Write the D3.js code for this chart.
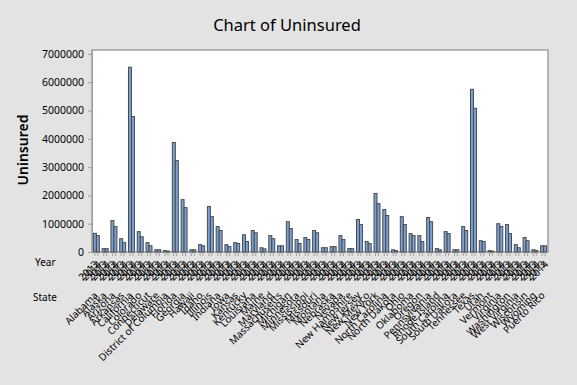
<!DOCTYPE html>
<html>
<head>
<meta charset="utf-8">
<script src="https://cdn.jsdelivr.net/npm/d3@7"></script>
<style>
  body { margin: 0; background: #e3e3e3; }
  svg { display: block; font-family: "Noto Sans", "Open Sans", sans-serif; }
</style>
</head>
<body>
<script>
//categories and values
var states = ["Alabama", "Alaska", "Arizona", "Arkansas", "California", "Colorado",
  "Connecticut", "Delaware", "District of Columbia", "Florida", "Georgia", "Hawaii",
  "Idaho", "Illinois", "Indiana", "Iowa", "Kansas", "Kentucky", "Louisiana", "Maine",
  "Maryland", "Massachusetts", "Michigan", "Minnesota", "Mississippi", "Missouri",
  "Montana", "Nebraska", "Nevada", "New Hampshire", "New Jersey", "New Mexico",
  "New York", "North Carolina", "North Dakota", "Ohio", "Oklahoma", "Oregon",
  "Pennsylvania", "Rhode Island", "South Carolina", "South Dakota", "Tennessee",
  "Texas", "Utah", "Vermont", "Virginia", "Washington", "West Virginia", "Wisconsin",
  "Wyoming", "Puerto Rico"];
var years = ["2013", "2014"];
var uninsured2013 = [660000, 120000, 1110000, 470000, 6530000, 720000,
  330000, 80000, 50000, 3870000, 1850000, 80000,
  260000, 1610000, 900000, 260000, 330000, 610000, 760000, 150000,
  580000, 220000, 1070000, 440000, 510000, 760000,
  150000, 190000, 580000, 120000, 1150000, 370000,
  2070000, 1500000, 80000, 1250000, 650000, 580000,
  1220000, 120000, 720000, 80000, 900000,
  5750000, 400000, 50000, 1000000, 970000, 260000, 510000,
  80000, 220000];
var uninsured2014 = [580000, 120000, 900000, 330000, 4790000, 540000,
  220000, 80000, 30000, 3230000, 1570000, 80000,
  220000, 1250000, 760000, 190000, 300000, 370000, 680000, 110000,
  470000, 220000, 830000, 300000, 440000, 680000,
  150000, 190000, 440000, 120000, 970000, 300000,
  1710000, 1290000, 50000, 970000, 580000, 370000,
  1070000, 80000, 650000, 80000, 760000,
  5080000, 370000, 30000, 900000, 650000, 150000, 400000,
  50000, 220000];
var yTicks = [0, 1000000, 2000000, 3000000, 4000000, 5000000, 6000000, 7000000];

(function all (){
  var width = 577,
  height = 385;
  var margin = {left: 92, right: 29, top: 50, bottom: 133};

  var svg = d3.select("body")
    .append("svg")
    .attr("width", width)
    .attr("height", height);

  svg.append("rect")
    .attr("width", width)
    .attr("height", height)
    .attr("fill", "#e3e3e3");

  //title
  svg.append("text")
    .attr("x", 287)
    .attr("y", 31)
    .attr("text-anchor", "middle")
    .attr("font-size", 16.5)
    .attr("fill", "#000")
    .text("Chart of Uninsured");

  var x0 = d3.scaleBand()
    .domain(states)
    .range([margin.left, width - margin.right])
    .paddingInner(0.32)
    .paddingOuter(0.16);
  var x1 = d3.scaleBand()
    .domain(years)
    .range([0, x0.bandwidth()]);
  var y = d3.scaleLinear()
    .domain([0, 7140000])
    .range([height - margin.bottom, margin.top]);

  //plot background
  svg.append("rect")
    .attr("x", margin.left)
    .attr("y", margin.top)
    .attr("width", width - margin.left - margin.right)
    .attr("height", height - margin.top - margin.bottom)
    .attr("fill", "#fff")
    .attr("stroke", "#a0a0a0")
    .attr("stroke-width", 1.5);

  //y axis
  var yAxis = svg.append("g")
    .attr("transform", "translate(" + margin.left + ",0)")
    .call(d3.axisLeft(y).tickValues(yTicks).tickSize(4).tickSizeOuter(0).tickFormat(d3.format("d")));
  yAxis.select(".domain").attr("stroke", "#a0a0a0");
  yAxis.selectAll(".tick line").attr("stroke", "#a0a0a0");
  yAxis.selectAll(".tick text")
    .attr("font-size", 10.5)
    .attr("font-family", "Noto Sans")
    .attr("fill", "#000")
    .attr("dx", -1);

  svg.append("text")
    .attr("transform", "translate(28,150) rotate(-90)")
    .attr("text-anchor", "middle")
    .attr("font-size", 14)
    .attr("font-weight", 600)
    .text("Uninsured");

  //bars, one group per state
  var rows = states.map(function(s, i){
    return {state: s, values: [uninsured2013[i], uninsured2014[i]]};
  });

  var groups = svg.selectAll(".grp")
    .data(rows)
    .enter()
    .append("g")
    .attr("class", "grp")
    .attr("transform", function(d){ return "translate(" + x0(d.state) + ",0)"; });

  groups.selectAll("rect")
    .data(function(d){ return d.values.map(function(v, j){ return {year: years[j], value: v}; }); })
    .enter()
    .append("rect")
    .attr("x", function(d){ return x1(d.year); })
    .attr("y", function(d){ return y(d.value); })
    .attr("width", x1.bandwidth())
    .attr("height", function(d){ return y(0) - y(d.value); })
    .attr("fill", "#7aa1d6")
    .attr("stroke", "#4a4a4a")
    .attr("stroke-width", 1);

  //tick marks below each bar
  groups.selectAll(".tk")
    .data(years)
    .enter()
    .append("line")
    .attr("class", "tk")
    .attr("x1", function(d){ return x1(d) + x1.bandwidth() / 2; })
    .attr("x2", function(d){ return x1(d) + x1.bandwidth() / 2; })
    .attr("y1", y(0))
    .attr("y2", y(0) + 4)
    .attr("stroke", "#a0a0a0");

  //year labels
  groups.selectAll(".yr")
    .data(years)
    .enter()
    .append("text")
    .attr("class", "yr")
    .attr("text-anchor", "end")
    .attr("font-size", 10)
    .attr("transform", function(d){
      return "translate(" + (x1(d) + x1.bandwidth() / 2 + 4) + "," + (y(0) + 13) + ") rotate(-45)";
    })
    .text(function(d){ return d; });

  //state labels
  groups.append("text")
    .attr("text-anchor", "end")
    .attr("font-size", 10)
    .attr("transform", function(){
      return "translate(" + (x0.bandwidth() / 2 + 2) + "," + (y(0) + 44) + ") rotate(-45)";
    })
    .text(function(d){ return d.state; });

  //row labels
  svg.append("text")
    .attr("x", 35)
    .attr("y", 266)
    .attr("font-size", 10)
    .text("Year");
  svg.append("text")
    .attr("x", 33)
    .attr("y", 301)
    .attr("font-size", 10)
    .text("State");
})();
</script>
</body>
</html>
